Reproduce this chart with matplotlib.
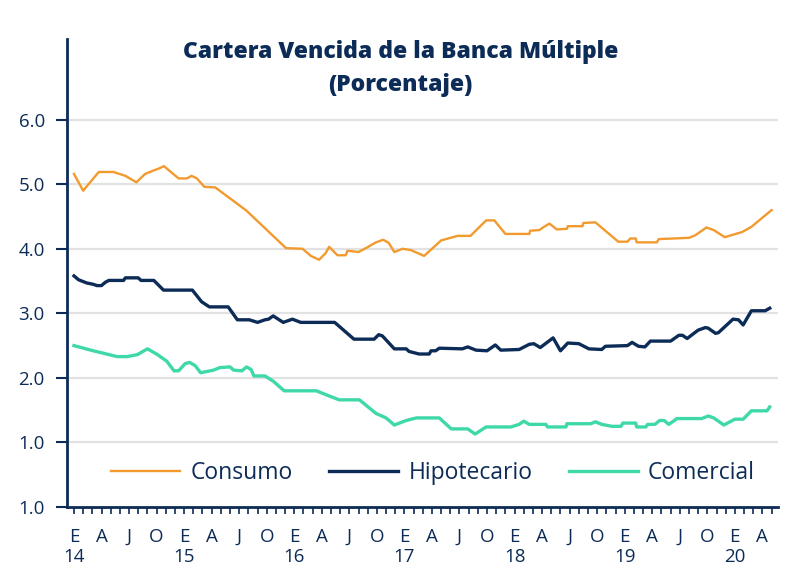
import matplotlib
matplotlib.use("Agg")
import matplotlib.pyplot as plt
from matplotlib.transforms import blended_transform_factory

# Months since Jan 2014 (decimal) and values
consumo_x = [0, 1.0, 2.7, 4.3, 5.6, 6.8, 7.75, 8.8, 9.2, 9.8, 11.4, 12.3, 12.8, 13.4, 14.2, 15.4,
             18.8, 23.1, 24.9, 25.8, 26.7, 27.4, 27.8, 28.7, 29.6, 29.8, 31.0, 31.8, 32.9, 33.7,
             34.3, 34.9, 35.8, 36.7, 38.15, 40.0, 41.8, 43.2, 44.9, 45.8, 47.0, 49.6, 49.7,
             50.7, 51.2, 51.8, 52.6, 53.7, 53.8, 55.4, 55.5, 56.8, 59.3, 60.3, 60.6, 61.2, 61.3,
             63.5, 63.7, 67.0, 67.7, 68.9, 69.7, 70.9, 72.8, 73.8, 74.9, 76.0]
consumo_y = [5.16, 4.90, 5.19, 5.19, 5.13, 5.03, 5.16, 5.22, 5.24, 5.28, 5.09, 5.09, 5.13, 5.09,
             4.96, 4.95, 4.59, 4.01, 4.00, 3.89, 3.83, 3.93, 4.03, 3.90, 3.90, 3.97, 3.95, 4.01,
             4.10, 4.14, 4.09, 3.95, 4.00, 3.98, 3.89, 4.13, 4.20, 4.20, 4.44, 4.44, 4.23, 4.23,
             4.28, 4.29, 4.34, 4.39, 4.30, 4.31, 4.35, 4.35, 4.40, 4.41, 4.11, 4.11, 4.16, 4.16,
             4.10, 4.10, 4.15, 4.17, 4.21, 4.33, 4.29, 4.18, 4.26, 4.34, 4.47, 4.60]

hipot_x = [0, 0.5, 1.4, 2.1, 2.5, 3.0, 3.4, 3.8, 5.4, 5.6, 7.0, 7.3, 8.7, 9.75, 12.9, 13.9, 14.75,
           16.8, 17.8, 19.1, 20.0, 20.8, 21.2, 21.7, 22.8, 23.8, 24.7, 26.4, 28.4, 30.5, 32.7,
           33.2, 33.6, 34.9, 36.2, 36.5, 37.6, 38.7, 38.9, 39.4, 39.8, 42.3, 42.9, 43.8, 45.0,
           45.9, 46.5, 48.5, 49.6, 50.1, 50.8, 52.2, 53.0, 53.8, 55.0, 56.1, 57.5, 57.9, 60.3,
           60.8, 61.5, 62.2, 62.8, 65.0, 65.9, 66.3, 66.8, 68.0, 68.8, 69.1, 69.9, 70.2, 71.8,
           72.4, 72.9, 73.8, 75.3, 75.8]
hipot_y = [3.58, 3.52, 3.47, 3.45, 3.43, 3.43, 3.48, 3.51, 3.51, 3.55, 3.55, 3.51, 3.51, 3.36,
           3.36, 3.18, 3.10, 3.10, 2.90, 2.90, 2.86, 2.90, 2.91, 2.96, 2.86, 2.91, 2.86, 2.86,
           2.86, 2.60, 2.60, 2.67, 2.65, 2.45, 2.45, 2.41, 2.37, 2.37, 2.42, 2.42, 2.46, 2.45,
           2.48, 2.43, 2.42, 2.51, 2.43, 2.44, 2.52, 2.53, 2.47, 2.62, 2.42, 2.54, 2.53, 2.45,
           2.44, 2.49, 2.50, 2.55, 2.49, 2.48, 2.57, 2.57, 2.66, 2.66, 2.61, 2.74, 2.78, 2.77,
           2.69, 2.70, 2.91, 2.90, 2.82, 3.04, 3.04, 3.08]

comer_x = [0, 2.1, 4.7, 5.8, 6.9, 8.0, 9.0, 10.1, 10.9, 11.4, 12.1, 12.6, 13.2, 13.8, 15.2, 15.9,
           17.0, 17.4, 18.3, 18.8, 19.3, 19.6, 20.8, 21.7, 22.9, 26.4, 27.8, 28.9, 31.1, 32.9,
           34.0, 34.9, 36.2, 37.3, 39.8, 41.1, 42.9, 43.7, 44.9, 47.6, 48.5, 49.0, 49.6, 51.4,
           51.6, 53.6, 53.7, 56.3, 56.8, 57.5, 58.6, 59.6, 59.8, 61.2, 61.3, 62.3, 62.5, 63.3,
           63.8, 64.3, 64.8, 65.7, 68.4, 69.1, 69.7, 70.8, 72.0, 72.9, 73.8, 75.5, 75.8]
comer_y = [2.50, 2.42, 2.33, 2.33, 2.36, 2.45, 2.37, 2.26, 2.11, 2.11, 2.22, 2.24, 2.19, 2.08,
           2.12, 2.16, 2.17, 2.12, 2.11, 2.17, 2.13, 2.03, 2.03, 1.95, 1.80, 1.80, 1.72, 1.66,
           1.66, 1.45, 1.38, 1.27, 1.34, 1.38, 1.38, 1.21, 1.21, 1.13, 1.24, 1.24, 1.28, 1.33,
           1.28, 1.28, 1.24, 1.24, 1.29, 1.29, 1.32, 1.28, 1.25, 1.25, 1.30, 1.30, 1.24, 1.24,
           1.28, 1.28, 1.34, 1.34, 1.28, 1.37, 1.37, 1.41, 1.38, 1.27, 1.36, 1.36, 1.49, 1.49,
           1.55]

series_names = ["Consumo", "Hipotecario", "Comercial"]
month_letters = ["E", "A", "J", "O"]
years = ["14", "15", "16", "17", "18", "19", "20"]
ytick_vals = [0, 1, 2, 3, 4, 5, 6]
ytick_labels = ["1.0", "1.0", "2.0", "3.0", "4.0", "5.0", "6.0"]

NAVY = "#0c2c57"
ORANGE = "#f29a2e"
TEAL = "#3ed8a9"

plt.rcParams['font.family'] = ['Open Sans', 'DejaVu Sans']

fig = plt.figure(figsize=(8.01, 5.87), dpi=100)
ax = fig.add_axes([67/801, 80/587, 711/801, 468/587])

ax.plot(consumo_x, consumo_y, color=ORANGE, lw=1.7, label=series_names[0], zorder=3)
ax.plot(hipot_x, hipot_y, color=NAVY, lw=2.4, label=series_names[1], zorder=3)
ax.plot(comer_x, comer_y, color=TEAL, lw=2.4, label=series_names[2], zorder=3)

ax.set_ylim(0, 7.25)
ax.set_xlim(-0.76, 76.7)

for v in ytick_vals[1:]:
    ax.axhline(v, color="#e2e2e2", lw=1.6, zorder=1)

ax.set_yticks(ytick_vals)
ax.set_yticklabels(ytick_labels)
ax.tick_params(axis='y', length=8, width=1.5, color=NAVY, pad=8, labelsize=13.5, labelcolor=NAVY)

# x ticks: monthly minor ticks, labels every 3 months
ax.set_xticks(range(0, 77), minor=True)
major = list(range(0, 76, 3))
ax.set_xticks(major)
ax.set_xticklabels([month_letters[(m // 3) % 4] for m in major])
ax.tick_params(axis='x', which='major', length=5, width=1.2, color=NAVY, pad=10,
               labelsize=13.5, labelcolor=NAVY)
ax.tick_params(axis='x', which='minor', length=5, width=1.2, color=NAVY)

trans = blended_transform_factory(ax.transData, ax.transAxes)
for i, yr in enumerate(years):
    ax.text(12 * i, -0.107, yr, transform=trans, ha='center', va='center',
            fontsize=13.5, color=NAVY)

for s in ['top', 'right']:
    ax.spines[s].set_visible(False)
for s in ['left', 'bottom']:
    ax.spines[s].set_color(NAVY)
    ax.spines[s].set_linewidth(2)

leg = ax.legend(loc='center', bbox_to_anchor=(0.515, 0.073), ncol=3, frameon=False,
                fontsize=16.5, handlelength=3.0, handletextpad=0.45, columnspacing=1.6)
for t in leg.get_texts():
    t.set_color(NAVY)

fig.text(0.5, 1 - 52/587, "Cartera Vencida de la Banca Múltiple", ha='center', va='center',
         fontsize=16.5, fontweight='heavy', color=NAVY)
fig.text(0.5, 1 - 85/587, "(Porcentaje)", ha='center', va='center',
         fontsize=16.5, fontweight='heavy', color=NAVY)

fig.savefig("out.png", dpi=100)
